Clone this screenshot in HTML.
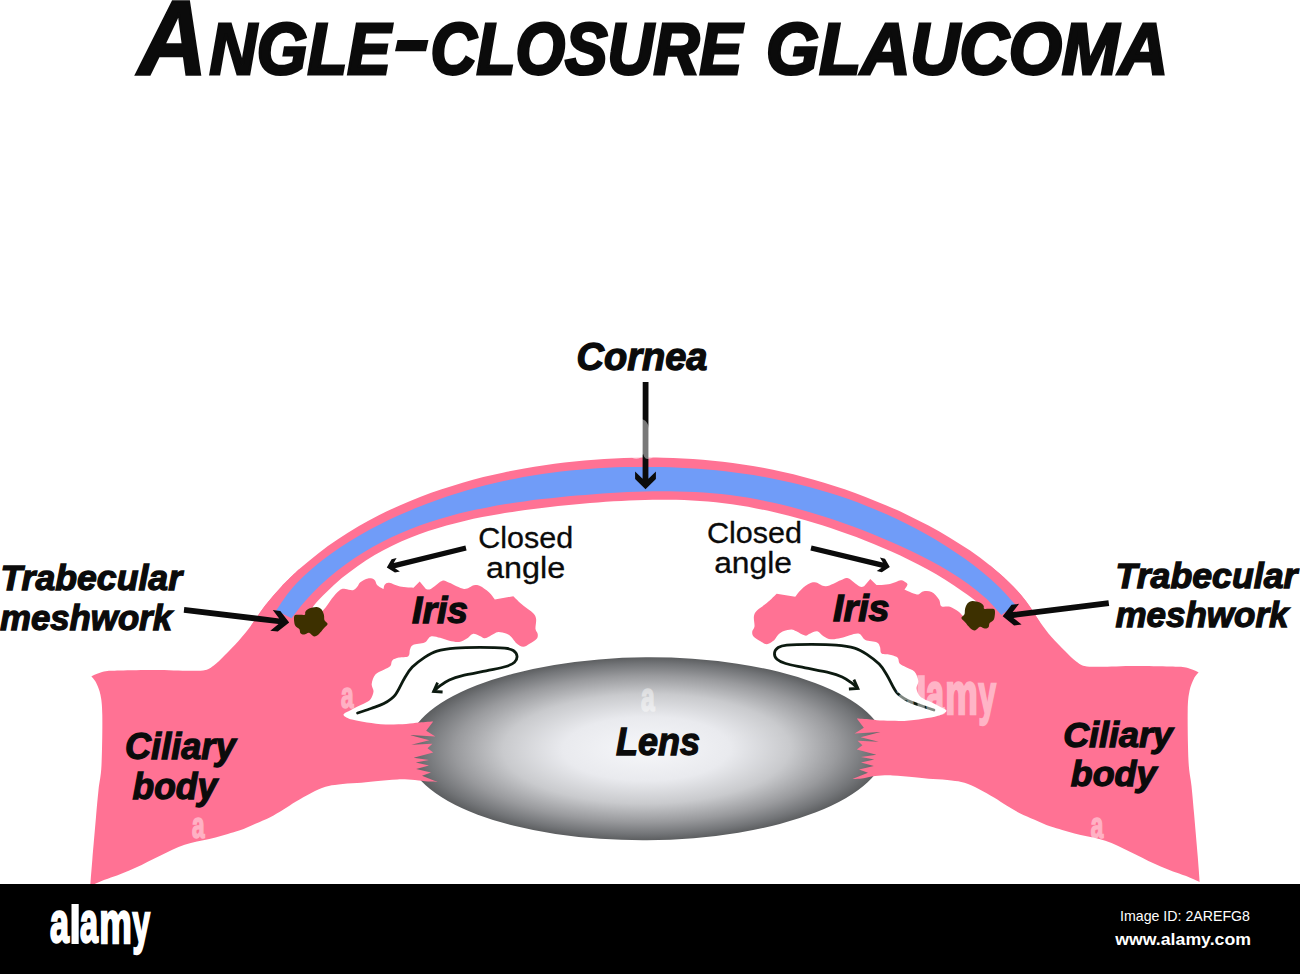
<!DOCTYPE html>
<html lang="en">
<head>
<meta charset="utf-8">
<title>Angle-closure glaucoma</title>
<style>
html,body{margin:0;padding:0;background:#ffffff;}
body{width:1300px;height:974px;overflow:hidden;font-family:"Liberation Sans",sans-serif;}
svg{display:block;}
svg text{font-family:"Liberation Sans",sans-serif;}
</style>
</head>
<body>
<svg width="1300" height="974" viewBox="0 0 1300 974">
<defs>
<radialGradient id="lensg" cx="0.5" cy="0.5" r="0.5">
<stop offset="0" stop-color="#f6f7fa"/>
<stop offset="0.35" stop-color="#e9eaee"/>
<stop offset="0.6" stop-color="#c9cacd"/>
<stop offset="0.8" stop-color="#999a9d"/>
<stop offset="0.93" stop-color="#737578"/>
<stop offset="1" stop-color="#5c5e60"/>
</radialGradient>
</defs>
<rect x="0" y="0" width="1300" height="974" fill="#ffffff"/>
<ellipse cx="646.4" cy="748.8" rx="239.2" ry="91.5" fill="url(#lensg)" transform="rotate(-0.4 646.4 748.8)"/>
<path d="M305 600L299.3 569.1C299.3 569.1 287.2 580.4 281.5 586.4C275.8 592.4 270.4 598.7 265.3 605.3C260.2 611.9 255.4 619.8 250.9 625.8C246.4 631.8 242.9 636 238.5 641C234.1 646 228.6 651.4 224.5 655.5C220.4 659.6 217 663.1 213.8 665.5C210.6 667.9 209.5 669.1 205.5 670C201.5 670.9 198.4 670.8 190 670.8C181.6 670.8 166.7 670 155 670C143.3 670 128.5 670.2 120 670.5C111.5 670.8 108.8 670.5 104 671.5C99.2 672.5 91.3 676.3 91.3 676.3C91.3 676.3 94.5 679.4 96 682.5C97.5 685.6 99.5 689.6 100.5 695C101.5 700.4 102.1 703.3 102.3 715C102.5 726.7 102.1 752.5 101.5 765C100.9 777.5 99.4 781.3 98.5 790C97.6 798.7 97 805.3 96 817C95 828.7 93.2 848.5 92.3 860C91.3 871.5 90.3 886 90.3 886C90.3 886 100.1 881.6 104.6 879.8C109 878 112.9 876.9 117 875.4C121.1 873.9 125.2 872.2 129.3 870.5C133.4 868.8 137.5 867 141.6 865C145.7 863 149.8 860.8 153.9 858.8C158 856.8 162.1 854.7 166.2 852.7C170.3 850.8 174.4 848.7 178.5 847.1C182.6 845.5 186.7 844.1 190.8 843C194.9 841.9 199.1 841.2 203.2 840.3C207.3 839.4 211.4 838.5 215.5 837.4C219.6 836.3 223.7 835.1 227.8 833.9C231.9 832.7 235.4 832 240 830.3C244.6 828.6 250.4 825.9 255.4 823.7C260.4 821.5 265.6 819.5 270.2 817.2C274.8 814.9 278.8 812.4 283.1 809.8C287.4 807.2 291.4 804.3 296 801.5C300.6 798.7 305.9 795.7 310.8 793.2C315.7 790.8 320.9 788.3 325.5 786.8C330.1 785.3 333.3 785 338.5 784.4C343.7 783.8 350.8 783.6 356.9 783.1C363 782.6 368.6 781.8 375.4 781.2C382.2 780.6 390.9 779.6 397.5 779.4C404.1 779.2 409.8 779.6 414.9 780C420 780.4 424.2 781.3 428 781.6C431.8 781.9 437.6 782 437.6 782L422 775.7L431 772.6L416.2 769.1L429 765.4L415.8 762.6L429 760L413.6 757.8L433.2 752.6L427.6 748.2L432.4 743.8L411.4 744.7L429.4 740.2L409.7 735.1L435.4 736.6L426.2 730.7L433.2 721.6C433.2 721.6 423.8 722.2 419.3 722.6C414.8 723 411.8 723.6 406.2 723.9C400.6 724.2 392.2 724.6 385.7 724.4C379.2 724.1 372.6 723.2 367 722.4C361.4 721.6 355.9 720.9 352 719.6C348.1 718.4 343.8 716.4 343.5 714.9C343.2 713.4 347.6 711.9 350 710.5C352.4 709.1 354.9 707.7 357.6 706.4C360.3 705.1 363.8 703.8 366 702.5C368.2 701.2 369.4 700.8 370.7 698.9C371.9 697 373.3 693.9 373.5 691.4C373.7 688.9 371.4 686.7 371.7 683.9C372 681.1 373.4 676.9 375.4 674.5C377.4 672.1 381.4 671.2 383.9 669.8C386.4 668.4 389 667.6 390.4 666C391.8 664.4 390.9 661.8 392.3 660.4C393.7 659 396.2 658.3 398.9 657.6C401.6 656.9 406.4 657.6 408.3 656.2C410.2 654.9 409.2 651.4 410 649.5C410.8 647.6 410.6 646.2 413 645C415.4 643.8 421.6 643.9 424.6 642.5C427.6 641.1 428.2 637.2 430.8 636.4C433.4 635.6 437.1 637.1 440.2 637.8C443.3 638.5 446.1 640 449.3 640.7C452.5 641.4 456.2 642.2 459.1 641.9C462 641.6 464.2 640.1 466.5 638.8C468.8 637.5 470.5 634.4 472.7 633.9C474.9 633.4 477.6 635.3 479.7 636C481.8 636.7 482.7 638.6 485 638.2C487.3 637.9 491.4 634.9 493.6 633.9C495.9 632.9 496.4 632.1 498.5 632C500.6 631.9 503.9 632.8 506 633.5C508.1 634.2 509.4 635.1 510.8 636.4C512.2 637.6 513.5 639.8 514.5 641C515.5 642.2 515.5 642.7 517 643.7C518.5 644.7 521 646.8 523.2 646.8C525.4 646.8 527.8 644.8 530 643.5C532.2 642.2 535.4 640.4 536.7 638.8C538 637.2 537.9 635.5 537.7 633.9C537.5 632.3 535.8 631.5 535.5 629C535.2 626.5 536.5 621.8 536.1 619.1C535.7 616.4 535.1 615.2 533 613C530.9 610.8 526.5 608.4 523.2 605.6C519.9 602.8 513.3 596.3 513.3 596.3L494.8 599.4C494.8 599.4 491.2 594.2 488.7 592C486.2 589.8 482.5 587 480 585.9C477.5 584.8 476.6 584.7 473.9 585.2C471.2 585.7 468.1 589.3 464 588.9C459.9 588.5 453 584.1 449.3 582.8C445.6 581.5 445 579.9 441.9 580.9C438.8 581.9 433.5 587.6 430.8 588.9C428.1 590.2 425.9 588.9 425.9 588.9L419.7 581.6L413.5 587.7C413.5 587.7 404.1 587.3 400 586.5C395.9 585.7 391.7 583.1 389.2 582.8C386.7 582.5 385.8 583.6 384.9 584.6C384 585.6 383.6 589 383.6 589C383.6 589 378.9 586.8 377.3 585.2C375.8 583.7 375.9 580.8 374.3 579.7C372.8 578.6 370.3 578.1 368 578.5C365.7 578.9 362 581 360.3 582.2C358.6 583.4 359 584.6 357.8 585.9C356.6 587.2 355.1 589.7 353 590.2C350.9 590.7 347.6 589.1 345.5 589C343.4 588.9 342.7 588.3 340.6 589.6C338.6 590.9 336.4 593.3 333.2 597C330 600.7 324.9 609.7 321.5 611.7C318.1 613.7 313 609 313 609L305 600Z" fill="#ff7294"/>
<path d="M985 600L990.1 565.5C990.1 565.5 1003 576.3 1009 582.2C1015 588.1 1020.8 594.3 1025.9 600.9C1031 607.5 1035.5 615.7 1039.8 621.7C1044.1 627.7 1047.2 632 1051.5 637C1055.8 642 1061.4 647.4 1065.5 651.5C1069.6 655.6 1073 659.1 1076.2 661.5C1079.4 663.9 1080.5 665.1 1084.5 666C1088.5 666.9 1091.6 666.8 1100 666.8C1108.4 666.8 1123.3 666 1135 666C1146.7 666 1161.5 666.2 1170 666.5C1178.5 666.8 1181.2 666.5 1186 667.5C1190.8 668.5 1198.7 672.3 1198.7 672.3C1198.7 672.3 1195.5 675.4 1194 678.5C1192.5 681.6 1190.5 685.6 1189.5 691C1188.5 696.4 1187.9 699.3 1187.7 711C1187.5 722.7 1187.9 748.5 1188.5 761C1189.1 773.5 1190.6 777.3 1191.5 786C1192.4 794.7 1193 801.3 1194 813C1195 824.7 1196.8 844.5 1197.7 856C1198.7 867.5 1199.7 882 1199.7 882C1199.7 882 1189.9 877.6 1185.4 875.8C1181 874 1177.1 872.9 1173 871.4C1168.9 869.9 1164.8 868.2 1160.7 866.5C1156.6 864.8 1152.5 863 1148.4 861C1144.3 859 1140.2 856.8 1136.1 854.8C1132 852.8 1127.9 850.7 1123.8 848.7C1119.7 846.8 1115.6 844.7 1111.5 843.1C1107.4 841.5 1103.3 840.1 1099.2 839C1095.1 837.9 1090.9 837.2 1086.8 836.3C1082.7 835.4 1078.6 834.5 1074.5 833.4C1070.4 832.3 1066.3 831.1 1062.2 829.9C1058.1 828.7 1054.6 828 1050 826.3C1045.4 824.6 1039.6 821.9 1034.6 819.7C1029.6 817.5 1024.4 815.5 1019.8 813.2C1015.2 810.9 1011.2 808.4 1006.9 805.8C1002.6 803.2 998.6 800.3 994 797.5C989.4 794.7 984.1 791.7 979.2 789.2C974.3 786.8 969.1 784.3 964.5 782.8C959.9 781.3 956.7 781 951.5 780.4C946.3 779.8 939.2 779.6 933.1 779.1C927 778.6 921.4 777.8 914.6 777.2C907.8 776.6 899.1 775.6 892.5 775.4C885.9 775.2 880.2 775.5 875.1 776C870 776.5 865.8 778.1 862 778.6C858.2 779.1 852.4 779 852.4 779L868 772.7L859 769.6L873.8 766.1L861 762.4L874.2 759.6L861 757L876.4 754.8L856.8 749.6L862.4 745.2L857.6 740.8L878.6 741.7L860.6 737.2L880.3 732.1L854.6 733.6L863.8 727.7L856.8 718.6C856.8 718.6 866.2 719.1 870.7 719.4C875.2 719.8 878.2 720.3 883.8 720.6C889.4 720.8 897.8 721.2 904.3 720.9C910.8 720.6 917.4 719.6 923 718.7C928.6 717.9 934.1 717.1 938 715.8C941.9 714.5 946.2 712.4 946.5 710.9C946.8 709.4 942.4 708 940 706.7C937.6 705.3 935.1 704 932.4 702.7C929.7 701.5 926.2 700.2 924 699C921.8 697.8 920.5 697.4 919.3 695.6C918 693.8 916.7 690.7 916.5 688.3C916.3 685.8 918.6 683.7 918.3 680.9C918 678.2 916.6 674 914.6 671.7C912.6 669.4 908.6 668.6 906.1 667.2C903.6 665.8 901 665 899.6 663.4C898.2 661.8 899.1 659.2 897.7 657.8C896.3 656.4 893.8 655.7 891.1 655C888.4 654.3 883.6 655 881.7 653.6C879.9 652.2 880.8 648.8 880 646.9C879.2 645 879.4 643.6 877 642.4C874.6 641.2 868.4 641.3 865.4 639.9C862.4 638.5 861.8 634.6 859.2 633.8C856.6 633 852.9 634.5 849.8 635.2C846.7 635.9 843.9 637.4 840.7 638.1C837.6 638.8 833.8 639.6 830.9 639.3C828 639 825.8 637.5 823.5 636.2C821.2 634.9 819.5 631.8 817.3 631.3C815.1 630.8 812.3 632.7 810.3 633.4C808.2 634.1 807.3 636 805 635.6C802.7 635.2 798.6 632.3 796.4 631.3C794.1 630.3 793.6 629.5 791.5 629.4C789.4 629.3 786 630.2 784 630.9C782 631.6 780.6 632.5 779.2 633.8C777.8 635 776.5 637.2 775.5 638.4C774.5 639.6 774.5 640.1 773 641.1C771.5 642.1 769 644.2 766.8 644.2C764.6 644.2 762.2 642.2 760 640.9C757.8 639.6 754.6 637.8 753.3 636.2C752 634.6 752.1 632.9 752.3 631.3C752.5 629.7 754.2 628.9 754.5 626.4C754.8 623.9 753.5 619.2 753.9 616.5C754.3 613.8 754.9 612.6 757 610.4C759.1 608.1 763.5 605.8 766.8 603C770.1 600.2 776.7 593.7 776.7 593.7L795.2 596.8C795.2 596.8 798.8 591.6 801.3 589.4C803.8 587.1 807.5 584.4 810 583.3C812.5 582.2 813.4 582.1 816.1 582.6C818.8 583.1 821.9 586.7 826 586.3C830.1 585.9 837 581.5 840.7 580.2C844.4 578.9 845 577.3 848.1 578.3C851.2 579.3 856.5 585 859.2 586.3C861.9 587.6 864.1 586.3 864.1 586.3L870.3 579L876.5 585.1C876.5 585.1 886 584.7 890 583.9C894 583.1 898.3 580.5 900.8 580.2C903.3 579.9 904 581.3 905.1 582C906.2 582.7 907.6 583.3 907.5 584.6C907.4 585.9 904.5 589.6 904.5 589.6C904.5 589.6 913.7 594.2 916.8 594.5C919.9 594.8 920.5 591.8 923 591.4C925.5 591 928.9 590.7 931.6 592C934.3 593.3 937.4 597 939 599.4C940.6 601.8 939.6 605 941.4 606.2C943.2 607.4 947.1 605.9 950 606.8C952.9 607.7 956 610 958.7 611.7C961.4 613.4 963 617.9 966 617C969 616.1 977 606.5 977 606.5L985 600Z" fill="#ff7294"/>
<path d="M250.9 625.8C253.3 622.4 260.2 611.9 265.3 605.3C270.4 598.7 275.8 592.4 281.5 586.4C287.2 580.4 293.2 574.6 299.3 569.1C305.4 563.6 311.8 558.4 318.2 553.4C324.6 548.4 331.2 543.8 337.9 539.3C344.5 534.8 351.3 530.6 358.1 526.6C364.9 522.6 371.9 518.8 378.8 515.3C385.7 511.8 392.7 508.5 399.7 505.4C406.7 502.3 413.7 499.4 420.7 496.7C427.7 494 434.7 491.5 441.7 489.2C448.7 486.9 455.7 484.7 462.6 482.7C469.5 480.7 476.4 478.8 483.3 477.1C490.2 475.4 497.1 473.8 503.9 472.4C510.7 471 517.5 469.7 524.3 468.5C531.1 467.3 537.8 466.2 544.5 465.2C551.2 464.2 557.9 463.4 564.5 462.6C571.1 461.8 577.8 461.1 584.4 460.5C591 459.9 597.6 459.4 604.2 459C610.8 458.6 617.3 458.3 623.9 458.1C630.5 457.9 637 457.7 643.6 457.6C650.2 457.5 656.7 457.6 663.3 457.7C669.9 457.8 676.5 458 683.1 458.4C689.7 458.8 696.3 459.2 702.9 459.8C709.5 460.4 716.1 460.9 722.8 461.7C729.4 462.5 736.1 463.4 742.8 464.4C749.5 465.4 756.3 466.5 763 467.8C769.7 469.1 776.4 470.5 783.2 472C790 473.5 796.8 475.1 803.6 476.9C810.4 478.7 817.2 480.6 824.1 482.7C831 484.8 837.8 486.9 844.7 489.3C851.6 491.7 858.5 494.2 865.5 496.9C872.5 499.6 879.4 502.4 886.4 505.4C893.4 508.4 900.4 511.5 907.4 514.9C914.4 518.2 921.5 521.8 928.5 525.5C935.5 529.2 942.5 533.2 949.4 537.4C956.3 541.6 963.3 545.9 970.1 550.6C976.9 555.3 983.6 560.2 990.1 565.5C996.6 570.8 1003 576.3 1009 582.2C1015 588.1 1020.8 594.3 1025.9 600.9C1031 607.5 1037.5 618.2 1039.8 621.7L990 622C988.2 619.1 984 609.6 979.5 604.5C975 599.4 968.4 595.5 962.7 591.4C957 587.3 951.1 583.4 945.2 579.7C939.3 576 933.3 572.6 927.3 569.3C921.3 566 915.3 562.9 909.3 559.9C903.3 556.9 897.3 554.1 891.4 551.5C885.5 548.9 879.6 546.4 873.7 544C867.9 541.6 862.1 539.3 856.3 537.1C850.5 534.9 844.8 532.9 839.1 530.9C833.4 528.9 827.8 527.1 822.2 525.3C816.6 523.5 811 521.8 805.4 520.2C799.8 518.6 794.4 517.1 788.9 515.7C783.4 514.3 778 513 772.5 511.8C767 510.6 761.6 509.4 756.2 508.4C750.8 507.4 745.4 506.5 740 505.6C734.6 504.8 729.2 504 723.9 503.3C718.5 502.6 713.2 502.1 707.9 501.6C702.6 501.1 697.3 500.8 692 500.5C686.7 500.2 681.5 499.9 676.2 499.8C671 499.7 665.7 499.7 660.5 499.7C655.3 499.7 650 499.8 644.8 499.9C639.6 500 634.4 500.2 629.2 500.4C624 500.6 618.8 501 613.6 501.3C608.4 501.6 603.1 502 597.9 502.4C592.6 502.8 587.4 503.2 582.1 503.7C576.8 504.2 571.6 504.8 566.2 505.3C560.9 505.9 555.4 506.4 550 507C544.6 507.6 539.1 508.3 533.6 509C528.1 509.7 522.5 510.4 516.9 511.2C511.2 512 505.5 512.9 499.7 513.9C493.9 514.9 488.2 515.9 482.3 517.1C476.4 518.3 470.5 519.5 464.5 520.9C458.5 522.3 452.5 523.8 446.5 525.5C440.5 527.2 434.4 529.1 428.3 531.1C422.2 533.1 416.2 535.3 410.2 537.8C404.2 540.2 398.1 542.9 392.2 545.8C386.3 548.7 380.4 551.8 374.7 555.1C369 558.5 363.4 562.1 357.9 565.9C352.4 569.7 347 573.8 341.8 578.1C336.6 582.4 331.7 587 326.9 591.7C322.1 596.5 316.8 601.1 313.1 606.6C309.5 612.1 306.4 621.9 305 625Z" fill="#ff7294"/>
<path d="M276.1 610.6C278.3 607.5 284.3 597.9 289.1 592C293.9 586.1 299.2 580.5 304.7 575.3C310.2 570 316.1 565.2 322 560.5C327.9 555.8 334.2 551.5 340.4 547.3C346.6 543.1 353 539.2 359.4 535.5C365.8 531.8 372.3 528.3 378.8 525C385.3 521.7 391.8 518.6 398.3 515.6C404.8 512.6 411.3 509.9 417.8 507.3C424.3 504.7 430.7 502.2 437.2 499.9C443.7 497.6 450.2 495.5 456.6 493.5C463.1 491.5 469.5 489.6 475.9 487.8C482.3 486.1 488.6 484.5 495 483C501.4 481.5 507.7 480.1 514 478.9C520.3 477.6 526.5 476.5 532.8 475.5C539 474.5 545.3 473.6 551.5 472.8C557.7 472 563.9 471.2 570 470.6C576.1 470 582.3 469.4 588.4 468.9C594.5 468.4 600.6 468.1 606.7 467.8C612.8 467.5 618.9 467.2 625 467.1C631.1 467 637.1 466.9 643.1 466.9C649.1 466.9 655.2 466.9 661.3 467C667.4 467.1 673.4 467.4 679.5 467.7C685.6 468 691.7 468.3 697.8 468.7C703.9 469.1 710.1 469.7 716.2 470.3C722.3 470.9 728.4 471.6 734.6 472.4C740.8 473.2 747.1 474.1 753.3 475.1C759.5 476.1 765.7 477.2 772 478.4C778.3 479.6 784.6 480.9 790.9 482.4C797.2 483.9 803.6 485.5 810 487.2C816.4 488.9 822.7 490.7 829.1 492.7C835.5 494.7 842 496.8 848.4 499.1C854.8 501.4 861.2 503.8 867.7 506.4C874.2 509 880.6 511.7 887.1 514.6C893.6 517.5 900 520.6 906.5 523.8C913 527 919.4 530.4 925.8 534C932.2 537.6 938.6 541.4 945 545.4C951.4 549.4 957.7 553.6 963.9 558C970.1 562.4 976.2 567 982.2 571.9C988.2 576.8 994.1 581.9 999.6 587.4C1005.1 592.9 1012.7 601.7 1015.3 604.6L1001.4 615.1C998.9 612.4 991.7 603.8 986.2 598.6C980.7 593.5 974.7 588.7 968.6 584.2C962.5 579.7 956.1 575.6 949.8 571.7C943.4 567.8 937 564.2 930.5 560.8C924 557.3 917.5 554.1 911.1 551C904.7 547.9 898.2 545.1 891.9 542.3C885.5 539.5 879.2 536.8 873 534.3C866.8 531.8 860.5 529.4 854.4 527.1C848.2 524.8 842.2 522.7 836.1 520.6C830 518.5 824 516.6 818 514.7C812 512.8 806.1 511 800.2 509.4C794.3 507.8 788.3 506.2 782.4 504.8C776.5 503.4 770.6 502.1 764.8 500.9C758.9 499.7 753.1 498.6 747.3 497.6C741.5 496.6 735.7 495.8 729.9 495.1C724.1 494.4 718.4 493.8 712.6 493.3C706.9 492.8 701.1 492.3 695.4 492C689.7 491.7 684 491.5 678.3 491.4C672.6 491.3 666.9 491.2 661.3 491.2C655.6 491.2 650 491.4 644.4 491.5C638.8 491.6 633.2 491.9 627.6 492.1C622 492.4 616.3 492.6 610.7 493C605.1 493.4 599.5 493.8 593.8 494.2C588.1 494.6 582.4 495.1 576.7 495.6C571 496.1 565.3 496.6 559.5 497.2C553.7 497.8 547.8 498.4 541.9 499.1C536 499.8 530.1 500.6 524.1 501.4C518.1 502.2 512 503.1 505.9 504.1C499.8 505.1 493.6 506.2 487.4 507.4C481.2 508.6 474.9 509.8 468.5 511.3C462.1 512.8 455.7 514.4 449.3 516.2C442.9 518 436.4 519.9 430 522C423.6 524.1 417.1 526.5 410.7 529C404.3 531.5 397.9 534.3 391.5 537.3C385.1 540.3 378.8 543.5 372.6 547C366.4 550.5 360.3 554.2 354.3 558.2C348.3 562.2 342.5 566.4 336.8 570.9C331.1 575.4 325.6 580.2 320.3 585.2C315 590.2 310 595.5 305.2 601C300.4 606.5 293.9 615.3 291.6 618.2Z" fill="#709cf8"/>
<path d="M294.3 616C293.6 617.8 294.2 623.1 295 625.3C295.8 627.5 298.4 627.7 299.3 629C300.2 630.3 299.7 632.4 300.5 633.3C301.3 634.2 302.8 634.6 304.2 634.5C305.6 634.4 307.5 632.4 309.1 632.7C310.7 633 312.4 636.2 314 636.4C315.6 636.6 317.4 635.2 319 633.9C320.6 632.5 322.5 629.9 323.9 628.3C325.3 626.6 327.5 625.3 327.6 624C327.7 622.7 325.1 621.8 324.5 620.3C323.9 618.8 324.4 616.6 323.9 614.8C323.4 613 322.6 610.6 321.4 609.3C320.2 608 318.6 607.1 316.5 607C314.4 606.9 311 607.8 309.1 608.6C307.2 609.4 306.1 610.7 305.4 611.7C304.7 612.7 305.8 614.3 304.8 614.8C303.8 615.3 301.1 614.6 299.3 614.8C297.6 615 295 614.2 294.3 616Z" fill="#3d3000"/>
<g transform="translate(1289,-6) scale(-1,1)"><path d="M294.3 616C293.6 617.8 294.2 623.1 295 625.3C295.8 627.5 298.4 627.7 299.3 629C300.2 630.3 299.7 632.4 300.5 633.3C301.3 634.2 302.8 634.6 304.2 634.5C305.6 634.4 307.5 632.4 309.1 632.7C310.7 633 312.4 636.2 314 636.4C315.6 636.6 317.4 635.2 319 633.9C320.6 632.5 322.5 629.9 323.9 628.3C325.3 626.6 327.5 625.3 327.6 624C327.7 622.7 325.1 621.8 324.5 620.3C323.9 618.8 324.4 616.6 323.9 614.8C323.4 613 322.6 610.6 321.4 609.3C320.2 608 318.6 607.1 316.5 607C314.4 606.9 311 607.8 309.1 608.6C307.2 609.4 306.1 610.7 305.4 611.7C304.7 612.7 305.8 614.3 304.8 614.8C303.8 615.3 301.1 614.6 299.3 614.8C297.6 615 295 614.2 294.3 616Z" fill="#3d3000"/></g>
<path d="M357.6 713C359.8 712.2 366.6 710.1 371 708.5C375.4 706.9 379.9 705.8 383.9 703.6C387.9 701.4 391.7 699.3 395.1 695.1C398.5 690.9 401.6 682.9 404.5 678.2C407.4 673.5 408.9 670.6 412.3 667.1C415.7 663.6 420.5 660 424.6 657.3C428.7 654.6 431.8 652.6 436.9 651.1C442 649.6 448.2 648.7 455.4 648.1C462.6 647.5 471.8 647.4 480 647.4C488.2 647.4 499.1 647.6 504.7 648.1C510.2 648.6 511.2 649.2 513.3 650.5C515.3 651.8 516.8 654.1 517 656.1C517.2 658.1 516.4 660.5 514.5 662.2C512.6 663.9 510.6 665.1 505.9 666.5C501.2 667.9 493.6 669.2 486.2 670.8C478.8 672.3 467.8 674.3 461.6 675.8C455.5 677.3 452.9 678.4 449.3 680C445.7 681.6 442.7 683.9 440.2 685.7C437.7 687.5 435.2 690 434.2 690.9" fill="none" stroke="#0c1a10" stroke-width="2.8" stroke-linecap="round"/><path d="M437.6 682.6L433.6 691.4L442.6 692.0" fill="none" stroke="#0c1a10" stroke-width="2.8" stroke-linejoin="miter"/>
<g transform="translate(1291.5,-3) scale(-1,1)"><path d="M357.6 713C359.8 712.2 366.6 710.1 371 708.5C375.4 706.9 379.9 705.8 383.9 703.6C387.9 701.4 391.7 699.3 395.1 695.1C398.5 690.9 401.6 682.9 404.5 678.2C407.4 673.5 408.9 670.6 412.3 667.1C415.7 663.6 420.5 660 424.6 657.3C428.7 654.6 431.8 652.6 436.9 651.1C442 649.6 448.2 648.7 455.4 648.1C462.6 647.5 471.8 647.4 480 647.4C488.2 647.4 499.1 647.6 504.7 648.1C510.2 648.6 511.2 649.2 513.3 650.5C515.3 651.8 516.8 654.1 517 656.1C517.2 658.1 516.4 660.5 514.5 662.2C512.6 663.9 510.6 665.1 505.9 666.5C501.2 667.9 493.6 669.2 486.2 670.8C478.8 672.3 467.8 674.3 461.6 675.8C455.5 677.3 452.9 678.4 449.3 680C445.7 681.6 442.7 683.9 440.2 685.7C437.7 687.5 435.2 690 434.2 690.9" fill="none" stroke="#0c1a10" stroke-width="2.8" stroke-linecap="round"/><path d="M437.6 682.6L433.6 691.4L442.6 692.0" fill="none" stroke="#0c1a10" stroke-width="2.8" stroke-linejoin="miter"/></g>
<polygon points="645.5,489.2 635.1,479 635.1,471.4 642.6,478.8 642.7,382 648.5,382 648.4,478.8 655.9,471.4 655.9,479" fill="#0b0b0b"/>
<polygon points="289.2,622.5 277.8,631.6 270.3,630.7 278.5,624.1 183.7,612.7 184.3,606.9 279.2,618.4 272.8,610 280.3,611" fill="#0b0b0b"/>
<polygon points="1002.7,616.3 1011.5,604.7 1019.1,603.8 1012.7,612.1 1108.4,600.3 1109.2,606.1 1013.4,617.9 1021.6,624.4 1014.1,625.4" fill="#0b0b0b"/>
<polygon points="386.8,567.5 391.6,559.2 396.6,558 393.7,563 465.4,545.4 466.6,550.6 395,568.3 399.9,571.4 394.9,572.6" fill="#0b0b0b"/>
<polygon points="889.8,567 881.8,572.2 876.7,570.9 881.6,567.8 810.4,550.6 811.6,545.4 882.9,562.6 879.9,557.5 885,558.7" fill="#0b0b0b"/>
<text x="576.5" y="369.6" font-size="38.4" font-weight="bold" font-style="italic" fill="#0b0b0b" text-anchor="start" textLength="131" lengthAdjust="spacingAndGlyphs" stroke="#0b0b0b" stroke-width="1.3" stroke-linejoin="miter">Cornea</text>
<text x="0.5" y="590.1" font-size="35.2" font-weight="bold" font-style="italic" fill="#0b0b0b" text-anchor="start" textLength="181.5" lengthAdjust="spacingAndGlyphs" stroke="#0b0b0b" stroke-width="1.3" stroke-linejoin="miter">Trabecular</text>
<text x="0" y="629.5" font-size="35.7" font-weight="bold" font-style="italic" fill="#0b0b0b" text-anchor="start" textLength="172" lengthAdjust="spacingAndGlyphs" stroke="#0b0b0b" stroke-width="1.3" stroke-linejoin="miter">meshwork</text>
<text x="1115.5" y="587.6" font-size="35.2" font-weight="bold" font-style="italic" fill="#0b0b0b" text-anchor="start" textLength="182" lengthAdjust="spacingAndGlyphs" stroke="#0b0b0b" stroke-width="1.3" stroke-linejoin="miter">Trabecular</text>
<text x="1115.5" y="627" font-size="35.7" font-weight="bold" font-style="italic" fill="#0b0b0b" text-anchor="start" textLength="173" lengthAdjust="spacingAndGlyphs" stroke="#0b0b0b" stroke-width="1.3" stroke-linejoin="miter">meshwork</text>
<text x="412.1" y="622.8" font-size="36.9" font-weight="bold" font-style="italic" fill="#0b0b0b" text-anchor="start" textLength="55.8" lengthAdjust="spacingAndGlyphs" stroke="#0b0b0b" stroke-width="1.3" stroke-linejoin="miter">Iris</text>
<text x="833" y="620.6" font-size="36" font-weight="bold" font-style="italic" fill="#0b0b0b" text-anchor="start" textLength="56.6" lengthAdjust="spacingAndGlyphs" stroke="#0b0b0b" stroke-width="1.3" stroke-linejoin="miter">Iris</text>
<text x="616" y="755" font-size="38.9" font-weight="bold" font-style="italic" fill="#0b0b0b" text-anchor="start" textLength="84" lengthAdjust="spacingAndGlyphs" stroke="#0b0b0b" stroke-width="1.3" stroke-linejoin="miter">Lens</text>
<text x="125" y="759.2" font-size="36.9" font-weight="bold" font-style="italic" fill="#0b0b0b" text-anchor="start" textLength="110.5" lengthAdjust="spacingAndGlyphs" stroke="#0b0b0b" stroke-width="1.3" stroke-linejoin="miter">Ciliary</text>
<text x="132.6" y="798.8" font-size="36.1" font-weight="bold" font-style="italic" fill="#0b0b0b" text-anchor="start" textLength="84.6" lengthAdjust="spacingAndGlyphs" stroke="#0b0b0b" stroke-width="1.3" stroke-linejoin="miter">body</text>
<text x="1063.2" y="747.4" font-size="35.7" font-weight="bold" font-style="italic" fill="#0b0b0b" text-anchor="start" textLength="109.6" lengthAdjust="spacingAndGlyphs" stroke="#0b0b0b" stroke-width="1.3" stroke-linejoin="miter">Ciliary</text>
<text x="1070.8" y="786" font-size="35.6" font-weight="bold" font-style="italic" fill="#0b0b0b" text-anchor="start" textLength="85.7" lengthAdjust="spacingAndGlyphs" stroke="#0b0b0b" stroke-width="1.3" stroke-linejoin="miter">body</text>
<text x="478.2" y="547.6" font-size="30.3" font-weight="normal" font-style="normal" fill="#0b0b0b" text-anchor="start" textLength="95" lengthAdjust="spacingAndGlyphs" stroke="#0b0b0b" stroke-width="0.3" stroke-linejoin="miter">Closed</text>
<text x="486" y="577.6" font-size="30.3" font-weight="normal" font-style="normal" fill="#0b0b0b" text-anchor="start" textLength="79.2" lengthAdjust="spacingAndGlyphs" stroke="#0b0b0b" stroke-width="0.3" stroke-linejoin="miter">angle</text>
<text x="707" y="542.6" font-size="30.3" font-weight="normal" font-style="normal" fill="#0b0b0b" text-anchor="start" textLength="95.1" lengthAdjust="spacingAndGlyphs" stroke="#0b0b0b" stroke-width="0.3" stroke-linejoin="miter">Closed</text>
<text x="714.2" y="573" font-size="30.3" font-weight="normal" font-style="normal" fill="#0b0b0b" text-anchor="start" textLength="77.8" lengthAdjust="spacingAndGlyphs" stroke="#0b0b0b" stroke-width="0.3" stroke-linejoin="miter">angle</text>
<text x="138" y="74.5" font-size="105.6" font-weight="bold" font-style="italic" fill="#0b0b0b" text-anchor="start" textLength="69" lengthAdjust="spacingAndGlyphs" stroke="#0b0b0b" stroke-width="2.4" stroke-linejoin="miter">A</text>
<text x="209.6" y="73.5" font-size="72.3" font-weight="bold" font-style="italic" fill="#0b0b0b" text-anchor="start" textLength="181.3" lengthAdjust="spacingAndGlyphs" stroke="#0b0b0b" stroke-width="3.0" stroke-linejoin="miter">NGLE</text>
<text x="430.5" y="74.4" font-size="72.3" font-weight="bold" font-style="italic" fill="#0b0b0b" text-anchor="start" textLength="311.5" lengthAdjust="spacingAndGlyphs" stroke="#0b0b0b" stroke-width="3.0" stroke-linejoin="miter">CLOSURE</text>
<text x="766.1" y="74.4" font-size="72.3" font-weight="bold" font-style="italic" fill="#0b0b0b" text-anchor="start" textLength="402.1" lengthAdjust="spacingAndGlyphs" stroke="#0b0b0b" stroke-width="3.0" stroke-linejoin="miter">GLAUCOMA</text>
<path d="M397.5 40H428.5L426 51.3H395Z" fill="#0b0b0b"/>
<g opacity="0.47" transform="translate(846,-228.8)"><text x="50" y="942.2" font-size="57.1" font-weight="bold" font-style="normal" fill="#ffffff" text-anchor="start" textLength="19" lengthAdjust="spacingAndGlyphs" stroke="#ffffff" stroke-width="2.4" stroke-linejoin="miter">a</text><text x="80" y="942.2" font-size="57.1" font-weight="bold" font-style="normal" fill="#ffffff" text-anchor="start" textLength="18" lengthAdjust="spacingAndGlyphs" stroke="#ffffff" stroke-width="2.4" stroke-linejoin="miter">a</text><text x="99.2" y="943" font-size="58.4" font-weight="bold" font-style="normal" fill="#ffffff" text-anchor="start" textLength="32.6" lengthAdjust="spacingAndGlyphs" stroke="#ffffff" stroke-width="2.4" stroke-linejoin="miter">m</text><text x="132.5" y="941.6" font-size="56" font-weight="bold" font-style="normal" fill="#ffffff" text-anchor="start" textLength="17.5" lengthAdjust="spacingAndGlyphs" stroke="#ffffff" stroke-width="2.4" stroke-linejoin="miter">y</text><rect x="71.5" y="904" width="7.2" height="40" fill="#ffffff"/></g>
<g opacity="0.45" transform="translate(308,85.9) scale(0.66)"><text x="50" y="942.2" font-size="57.1" font-weight="bold" font-style="normal" fill="#ffffff" text-anchor="start" textLength="19" lengthAdjust="spacingAndGlyphs" stroke="#ffffff" stroke-width="2.4" stroke-linejoin="miter">a</text></g>
<g opacity="0.45" transform="translate(159,215.9) scale(0.66)"><text x="50" y="942.2" font-size="57.1" font-weight="bold" font-style="normal" fill="#ffffff" text-anchor="start" textLength="19" lengthAdjust="spacingAndGlyphs" stroke="#ffffff" stroke-width="2.4" stroke-linejoin="miter">a</text></g>
<g opacity="0.45" transform="translate(1057.8,215.9) scale(0.66)"><text x="50" y="942.2" font-size="57.1" font-weight="bold" font-style="normal" fill="#ffffff" text-anchor="start" textLength="19" lengthAdjust="spacingAndGlyphs" stroke="#ffffff" stroke-width="2.4" stroke-linejoin="miter">a</text></g>
<g opacity="0.45" transform="translate(605,32.2) scale(0.72)"><text x="50" y="942.2" font-size="57.1" font-weight="bold" font-style="normal" fill="#ffffff" text-anchor="start" textLength="19" lengthAdjust="spacingAndGlyphs" stroke="#ffffff" stroke-width="2.4" stroke-linejoin="miter">a</text></g>
<g opacity="0.45" transform="translate(568.5,-673.5) scale(1.2)"><text x="50" y="942.2" font-size="57.1" font-weight="bold" font-style="normal" fill="#ffffff" text-anchor="start" textLength="19" lengthAdjust="spacingAndGlyphs" stroke="#ffffff" stroke-width="2.4" stroke-linejoin="miter">a</text></g>
<rect x="0" y="884" width="1300" height="90" fill="#000000"/>
<text x="50" y="942.2" font-size="57.1" font-weight="bold" font-style="normal" fill="#ffffff" text-anchor="start" textLength="19" lengthAdjust="spacingAndGlyphs" stroke="#ffffff" stroke-width="2.4" stroke-linejoin="miter">a</text><text x="80" y="942.2" font-size="57.1" font-weight="bold" font-style="normal" fill="#ffffff" text-anchor="start" textLength="18" lengthAdjust="spacingAndGlyphs" stroke="#ffffff" stroke-width="2.4" stroke-linejoin="miter">a</text><text x="99.2" y="943" font-size="58.4" font-weight="bold" font-style="normal" fill="#ffffff" text-anchor="start" textLength="32.6" lengthAdjust="spacingAndGlyphs" stroke="#ffffff" stroke-width="2.4" stroke-linejoin="miter">m</text><text x="132.5" y="941.6" font-size="56" font-weight="bold" font-style="normal" fill="#ffffff" text-anchor="start" textLength="17.5" lengthAdjust="spacingAndGlyphs" stroke="#ffffff" stroke-width="2.4" stroke-linejoin="miter">y</text><rect x="71.5" y="904" width="7.2" height="40" fill="#ffffff"/>
<text x="1120" y="921.1" font-size="14.5" font-weight="normal" font-style="normal" fill="#ffffff" text-anchor="start" textLength="130" lengthAdjust="spacingAndGlyphs">Image ID: 2AREFG8</text>
<text x="1115.2" y="944.6" font-size="16.3" font-weight="bold" font-style="normal" fill="#ffffff" text-anchor="start" textLength="135.8" lengthAdjust="spacingAndGlyphs">www.alamy.com</text>
</svg>
</body>
</html>
